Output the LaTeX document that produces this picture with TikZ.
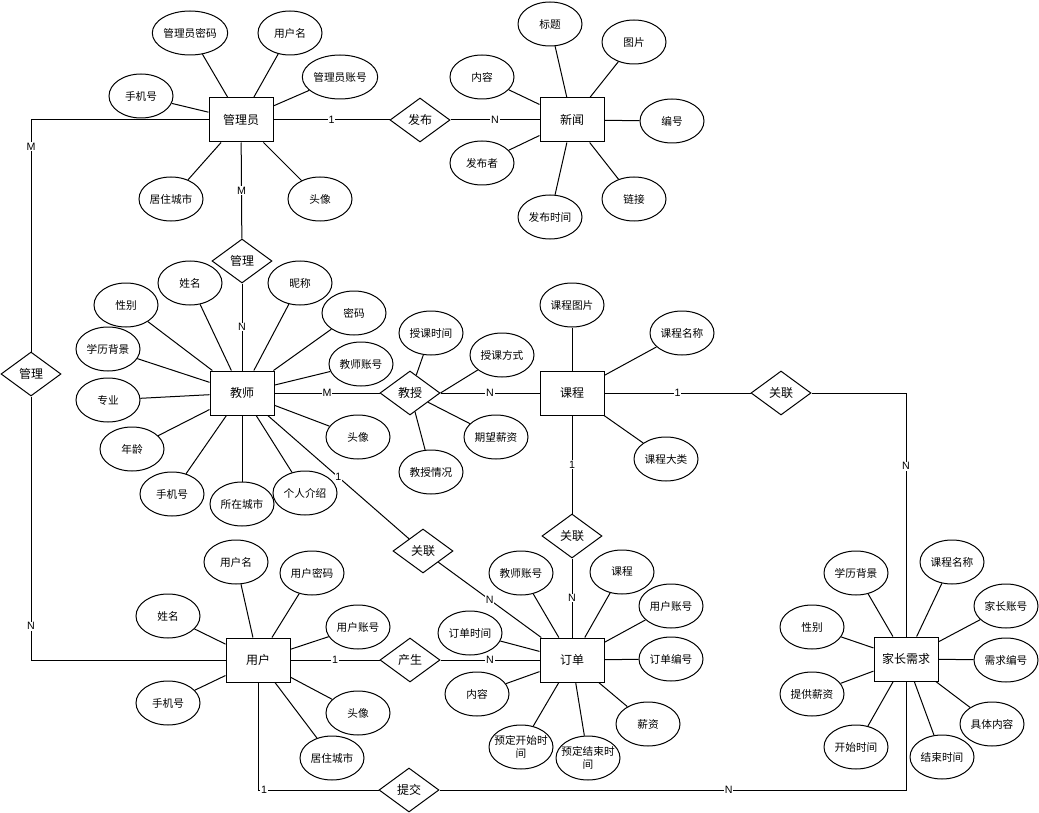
\documentclass[tikz,border=0pt]{standalone}
\usepackage{fontspec}
\setmainfont{Noto Sans CJK SC}
\newfontfamily\labfont{Liberation Sans}
\usetikzlibrary{shapes.geometric}
\tikzset{
 ent/.style={draw, rectangle, minimum width=48pt, minimum height=33pt, inner sep=0pt, line width=0.75pt, font=\fontsize{9}{11}\selectfont},
 attr/.style={draw, ellipse, minimum width=48pt, minimum height=33pt, inner sep=0pt, line width=0.75pt, align=center, font=\fontsize{8}{9.5}\selectfont},
 tight/.style={inner sep=-5pt},
 rel/.style={draw, diamond, minimum width=45pt, minimum height=33pt, inner sep=0pt, line width=0.75pt, font=\fontsize{9}{11}\selectfont},
 lab/.style={fill=white, inner sep=0.6pt, font=\labfont\fontsize{8}{9}\selectfont},
 conn/.style={line width=0.75pt},
}
\begin{document}
\begin{tikzpicture}[x=0.75pt,y=-0.75pt]
\useasboundingbox (0,0) rectangle (1039,813);
% entities
\node[ent] (gly) at (241,120) {管理员};
\node[ent] (xw) at (572,120) {新闻};
\node[ent] (js) at (242,393) {教师};
\node[ent] (kc) at (572,393) {课程};
\node[ent] (yh) at (258,660) {用户};
\node[ent] (dd) at (572,660) {订单};
\node[ent] (jz) at (906,659) {家长需求};
% relationships
\node[rel] (fb) at (420,120) {发布};
\node[rel] (glT) at (242,261) {管理};
\node[rel] (glL) at (31,374) {管理};
\node[rel] (jsr) at (410,393) {教授};
\node[rel] (glR) at (781,393) {关联};
\node[rel] (glM) at (423,551) {关联};
\node[rel] (glO) at (572,536) {关联};
\node[rel] (cs) at (410,660) {产生};
\node[rel] (tj) at (409,790) {提交};
% attributes of 管理员
\node[attr] (glymm) at (190,33) {管理员密码};
\node[attr] (glyyhm) at (290,33) {用户名};
\node[attr] (glyzh) at (340,77) {管理员账号};
\node[attr] (glysj) at (141,96) {手机号};
\node[attr] (glycs) at (171,199) {居住城市};
\node[attr] (glytx) at (320,199) {头像};
\foreach \a in {glymm,glyyhm,glyzh,glysj,glycs,glytx} \draw[conn] (gly) -- (\a);
% attributes of 新闻
\node[attr] (bt) at (550,24) {标题};
\node[attr] (tp) at (634,42) {图片};
\node[attr] (nr) at (482,77) {内容};
\node[attr] (bh) at (672,121) {编号};
\node[attr] (fbz) at (482,163) {发布者};
\node[attr] (lj) at (634,199) {链接};
\node[attr] (fbsj) at (550,217) {发布时间};
\foreach \a in {bt,tp,nr,bh,fbz,lj,fbsj} \draw[conn] (xw) -- (\a);
% attributes of 教师
\node[attr] (xm) at (190,283) {姓名};
\node[attr] (nc) at (300,283) {昵称};
\node[attr] (xb) at (126,305) {性别};
\node[attr] (mm) at (354,313) {密码};
\node[attr] (xl) at (108,349) {学历背景};
\node[attr] (jszh) at (361,364) {教师账号};
\node[attr] (zy) at (108,400) {专业};
\node[attr] (jstx) at (358,437) {头像};
\node[attr] (nl) at (132,449) {年龄};
\node[attr] (jssj) at (172,494) {手机号};
\node[attr] (szcs) at (242,504) {所在城市};
\node[attr] (grjs) at (305,493) {个人介绍};
\foreach \a in {xm,nc,xb,mm,xl,jszh,zy,jstx,nl,jssj,szcs,grjs} \draw[conn] (js) -- (\a);
% attributes of 教授
\node[attr] (sksj) at (431,333) {授课时间};
\node[attr] (skfs) at (502,355) {授课方式};
\node[attr] (qwxz) at (496,437) {期望薪资};
\node[attr] (jsqk) at (431,472) {教授情况};
\draw[conn] (jsr) -- (sksj);
\draw[conn] (jsr.east) -- (skfs);
\draw[conn] (jsr) -- (qwxz);
\draw[conn] (jsr) -- (jsqk);
% attributes of 课程
\node[attr] (kctp) at (572,305) {课程图片};
\node[attr] (kcmc) at (682,333) {课程名称};
\node[attr] (kcdl) at (666,459) {课程大类};
\foreach \a in {kctp,kcmc,kcdl} \draw[conn] (kc) -- (\a);
% attributes of 用户
\node[attr] (yhm) at (236,562) {用户名};
\node[attr] (yhmm) at (312,573) {用户密码};
\node[attr] (yhxm) at (168,616) {姓名};
\node[attr] (yhzh) at (358,627) {用户账号};
\node[attr] (yhsj) at (168,703) {手机号};
\node[attr] (yhtx) at (358,713) {头像};
\node[attr] (yhcs) at (332,758) {居住城市};
\foreach \a in {yhm,yhmm,yhxm,yhzh,yhsj,yhtx,yhcs} \draw[conn] (yh) -- (\a);
% attributes of 订单
\node[attr] (ddjs) at (521,573) {教师账号};
\node[attr] (ddkc) at (622,572) {课程};
\node[attr] (ddyh) at (671,606) {用户账号};
\node[attr] (ddsj) at (470,633) {订单时间};
\node[attr] (ddbh) at (671,659) {订单编号};
\node[attr] (ddnr) at (477,694) {内容};
\node[attr] (ddxz) at (648,724) {薪资};
\node[attr,tight] (ydks) at (521,747) {预定开始时\\间};
\node[attr,tight] (ydjs) at (588,758) {预定结束时\\间};
\foreach \a in {ddjs,ddkc,ddyh,ddsj,ddbh,ddnr,ddxz,ydks,ydjs} \draw[conn] (dd) -- (\a);
% attributes of 家长需求
\node[attr] (jzxl) at (856,573) {学历背景};
\node[attr] (jzkc) at (952,562) {课程名称};
\node[attr] (jzxb) at (812,627) {性别};
\node[attr] (jzzh) at (1006,606) {家长账号};
\node[attr] (xqbh) at (1006,660) {需求编号};
\node[attr] (tgxz) at (812,694) {提供薪资};
\node[attr] (jtnr) at (992,724) {具体内容};
\node[attr] (kssj) at (856,747) {开始时间};
\node[attr] (jssj2) at (942,757) {结束时间};
\foreach \a in {jzxl,jzkc,jzxb,jzzh,xqbh,tgxz,jtnr,kssj,jssj2} \draw[conn] (jz) -- (\a);
% relationship connectors
\draw[conn] (gly) -- node[lab]{1} (fb);
\draw[conn] (fb) -- node[lab]{N} (xw);
\draw[conn] (gly) -- node[lab]{M} (glT);
\draw[conn] (glT) -- node[lab]{N} (js);
\draw[conn] (gly.west) -| node[lab,pos=0.558]{M} (glL.north);
\draw[conn] (glL.south) |- node[lab,pos=0.436]{N} (yh.west);
\draw[conn] (js) -- node[lab]{M} (jsr);
\draw[conn] (jsr) -- node[lab]{N} (kc);
\draw[conn] (kc) -- node[lab]{1} (glR);
\draw[conn] (glR.east) -| node[lab,pos=0.65]{N} (jz.north);
\draw[conn] (kc) -- node[lab]{1} (glO);
\draw[conn] (glO) -- node[lab]{N} (dd);
\draw[conn] (js) -- node[lab]{1} (glM);
\draw[conn] (glM) -- node[lab]{N} (dd);
\draw[conn] (yh) -- node[lab]{1} (cs);
\draw[conn] (cs) -- node[lab]{N} (dd);
\draw[conn] (yh.south) |- node[lab,pos=0.525]{1} (tj.west);
\draw[conn] (jz.south) |- node[lab,pos=0.69]{N} (tj.east);
\end{tikzpicture}
\end{document}
